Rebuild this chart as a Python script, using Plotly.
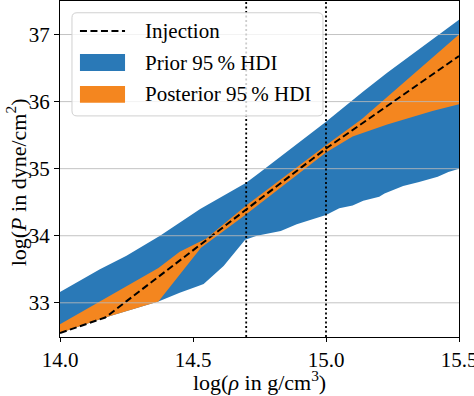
import plotly.graph_objects as go

# ---- data ----
prior_upper_x = [14.0, 14.15, 14.25, 14.376, 14.527, 14.70, 14.75, 15.0, 15.14, 15.23, 15.5]
prior_upper_y = [33.16, 33.50, 33.70, 34.00, 34.40, 34.79, 34.94, 35.70, 36.15, 36.43, 37.22]
prior_lower_x = [14.0, 14.17, 14.37, 14.45, 14.52, 14.54, 14.615, 14.696, 14.74, 14.83, 14.89,
                 15.0, 15.05, 15.1, 15.14, 15.2, 15.22, 15.29, 15.35, 15.42, 15.46, 15.5]
prior_lower_y = [32.55, 32.78, 33.02, 33.15, 33.25, 33.28, 33.55, 33.94, 34.00, 34.07, 34.17,
                 34.31, 34.41, 34.45, 34.52, 34.58, 34.63, 34.74, 34.80, 34.88, 34.95, 35.00]

post_upper_x = [14.0, 14.17, 14.37, 14.45, 14.55, 14.7, 15.0, 15.135, 15.5]
post_upper_y = [32.68, 33.06, 33.52, 33.76, 33.96, 34.45, 35.35, 35.74, 37.0]
post_lower_x = [14.0, 14.17, 14.37, 14.45, 14.53, 14.7, 15.0, 15.1, 15.23, 15.4, 15.5]
post_lower_y = [32.55, 32.78, 33.02, 33.42, 33.82, 34.32, 35.24, 35.48, 35.66, 35.86, 35.96]

injection_x = [14.0, 14.17, 14.7, 15.0, 15.5]
injection_y = [32.55, 32.78, 34.39, 35.30, 36.68]

marker_lines = [14.7, 15.0]

x_ticks = [14.0, 14.5, 15.0, 15.5]
x_tick_labels = ["14.0", "14.5", "15.0", "15.5"]
y_ticks = [33, 34, 35, 36, 37]
y_tick_labels = ["33", "34", "35", "36", "37"]

legend_labels = ["Injection", "Prior 95\u2009% HDI", "Posterior 95\u2009% HDI"]
x_title = "log(<i>ρ</i> in g/cm<sup>3</sup>)"
y_title = "log(<i>P</i> in dyne/cm<sup>2</sup>)"

BLUE = "#2a79b7"
ORANGE = "#f4861f"
FONT = "Liberation Serif, Times New Roman, DejaVu Serif, serif"
FS = 21
TXT = dict(family=FONT, size=FS, color="black")

fig = go.Figure()

fig.add_trace(go.Scatter(
    x=prior_lower_x + prior_upper_x[::-1],
    y=prior_lower_y + prior_upper_y[::-1],
    fill="toself", fillcolor=BLUE, line=dict(width=0), mode="lines",
    name=legend_labels[1], showlegend=False, hoverinfo="skip"))

fig.add_trace(go.Scatter(
    x=post_lower_x + post_upper_x[::-1],
    y=post_lower_y + post_upper_y[::-1],
    fill="toself", fillcolor=ORANGE, line=dict(width=0), mode="lines",
    name=legend_labels[2], showlegend=False, hoverinfo="skip"))

fig.add_trace(go.Scatter(
    x=injection_x, y=injection_y, mode="lines",
    line=dict(color="black", width=2, dash="7px,3.5px"),
    name=legend_labels[0], showlegend=False))

shapes = []
# horizontal grid lines drawn above the bands
for yv in y_ticks:
    shapes.append(dict(type="line", xref="paper", yref="y", x0=0, x1=1, y0=yv, y1=yv,
                       line=dict(color="rgba(185,185,185,0.85)", width=1), layer="above"))
# dotted vertical lines
for xv in marker_lines:
    shapes.append(dict(type="line", xref="x", yref="paper", x0=xv, x1=xv, y0=0, y1=1,
                       line=dict(color="black", width=1.8, dash="2px,2.5px"), layer="above"))

# legend frame (rounded)
lx0, lx1, ly0, ly1 = 0.030, 0.659, 0.658, 0.965
rx, ry = 5 / 399, 5 / 336
path = (f"M {lx0+rx},{ly0} L {lx1-rx},{ly0} Q {lx1},{ly0} {lx1},{ly0+ry} "
        f"L {lx1},{ly1-ry} Q {lx1},{ly1} {lx1-rx},{ly1} L {lx0+rx},{ly1} "
        f"Q {lx0},{ly1} {lx0},{ly1-ry} L {lx0},{ly0+ry} Q {lx0},{ly0} {lx0+rx},{ly0} Z")
shapes.append(dict(type="path", xref="paper", yref="paper", path=path,
                   fillcolor="rgba(255,255,255,0.8)",
                   line=dict(color="#d0d0d0", width=1), layer="above"))
# legend samples
sx0, sx1 = 0.050, 0.163
shapes.append(dict(type="line", xref="paper", yref="paper", x0=sx0, x1=sx1, y0=0.911, y1=0.911,
                   line=dict(color="black", width=2, dash="7px,3.5px"), layer="above"))
shapes.append(dict(type="rect", xref="paper", yref="paper", x0=sx0, x1=sx1, y0=0.792, y1=0.842,
                   fillcolor=BLUE, line=dict(width=0), layer="above"))
shapes.append(dict(type="rect", xref="paper", yref="paper", x0=sx0, x1=sx1, y0=0.697, y1=0.747,
                   fillcolor=ORANGE, line=dict(width=0), layer="above"))

annotations = []
for lab, yy in zip(legend_labels, [0.911, 0.816, 0.722]):
    annotations.append(dict(xref="paper", yref="paper", x=0.207, y=yy, text=lab,
                            showarrow=False, xanchor="left", yanchor="middle", font=TXT))
# axis titles
annotations.append(dict(xref="paper", yref="paper", x=0.5, y=-0.13, text=x_title,
                        showarrow=False, xanchor="center", yanchor="middle",
                        font=dict(family=FONT, size=22, color="black")))
annotations.append(dict(xref="paper", yref="paper", x=-0.108, y=0.46, text=y_title,
                        showarrow=False, xanchor="center", yanchor="middle", textangle=-90,
                        font=dict(family=FONT, size=22, color="black")))

fig.update_layout(
    width=474, height=396,
    margin=dict(l=60, r=15, t=1, b=59),
    paper_bgcolor="white", plot_bgcolor="white",
    font=TXT,
    shapes=shapes, annotations=annotations, showlegend=False,
    xaxis=dict(range=[14.0, 15.5], tickvals=x_ticks, ticktext=x_tick_labels,
               ticks="outside", ticklen=4, tickwidth=1, tickcolor="black",
               tickfont=TXT, ticklabeloverflow="allow",
               showline=True, mirror=True, linecolor="black", linewidth=1.2,
               showgrid=False, zeroline=False, automargin=False),
    yaxis=dict(range=[32.49, 37.5], tickvals=y_ticks, ticktext=y_tick_labels,
               ticks="outside", ticklen=5, tickwidth=1, tickcolor="black",
               tickfont=TXT, ticklabeloverflow="allow",
               showline=True, mirror=True, linecolor="black", linewidth=1.2,
               showgrid=False, zeroline=False, automargin=False),
)

fig.write_html("out.html", config={"displayModeBar": False},
               post_script="document.body.style.margin='0';document.body.style.overflow='hidden';")
